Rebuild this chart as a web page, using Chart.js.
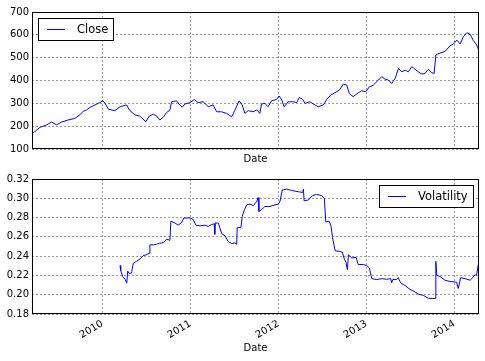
<!DOCTYPE html>
<html>
<head>
<meta charset="utf-8">
<title>Close and Volatility</title>
<script src="https://cdn.jsdelivr.net/npm/chart.js@4.4.1/dist/chart.umd.min.js"></script>
<style>
  body { margin: 0; background: #fff; }
  canvas { position: absolute; left: 0; }
  #closeChart { top: 0; }
  #volChart { top: 170px; }
</style>
</head>
<body>
<canvas id="closeChart" width="485" height="170"></canvas>
<canvas id="volChart" width="485" height="191"></canvas>
<script>
// values
const closeDates = [
  '2009-03-20', '2009-04-17', '2009-05-14', '2009-06-04', '2009-06-25', '2009-07-16', '2009-08-12',
  '2009-09-09', '2009-09-30', '2009-10-13', '2009-10-27', '2009-11-10', '2009-12-01', '2009-12-21',
  '2010-01-03', '2010-01-12', '2010-01-26', '2010-02-22', '2010-03-15', '2010-04-11', '2010-04-25',
  '2010-05-16', '2010-06-05', '2010-06-30', '2010-07-14', '2010-07-31', '2010-08-14', '2010-08-27',
  '2010-09-10', '2010-09-24', '2010-10-08', '2010-10-15', '2010-11-04', '2010-11-18', '2010-11-28',
  '2010-12-09', '2010-12-30', '2011-01-17', '2011-02-02', '2011-02-23', '2011-03-16', '2011-04-05',
  '2011-04-20', '2011-05-10', '2011-05-31', '2011-06-21', '2011-07-04', '2011-07-22', '2011-08-04',
  '2011-08-15', '2011-08-29', '2011-09-18', '2011-10-03', '2011-10-16', '2011-10-23', '2011-11-06',
  '2011-11-19', '2011-12-04', '2011-12-24', '2012-01-04', '2012-01-15', '2012-01-25', '2012-02-11',
  '2012-03-03', '2012-03-17', '2012-03-28', '2012-04-11', '2012-04-21', '2012-05-11', '2012-05-25',
  '2012-06-15', '2012-07-06', '2012-07-20', '2012-08-05', '2012-08-31', '2012-09-13', '2012-09-27',
  '2012-10-11', '2012-10-22', '2012-11-07', '2012-11-28', '2012-12-12', '2012-12-30', '2013-01-13',
  '2013-01-30', '2013-02-20', '2013-03-06', '2013-03-20', '2013-04-02', '2013-04-16', '2013-04-30',
  '2013-05-14', '2013-05-28', '2013-06-11', '2013-06-24', '2013-07-08', '2013-07-22', '2013-08-05',
  '2013-08-19', '2013-09-01', '2013-09-15', '2013-09-29', '2013-10-09', '2013-10-16', '2013-11-02',
  '2013-11-23', '2013-12-14', '2013-12-28', '2014-01-11', '2014-01-25', '2014-02-07', '2014-02-21',
  '2014-03-07', '2014-03-21', '2014-04-01', '2014-04-11'
];
const closeValues = [
  171, 195, 205, 218, 206, 218, 227,
  234, 250, 265, 271, 282, 293, 303,
  311, 300, 274, 268, 285, 293, 268,
  249, 244, 219, 244, 253, 244, 227,
  239, 259, 271, 307, 311, 293, 283,
  297, 303, 317, 303, 307, 285, 293,
  263, 263, 256, 241, 268, 311, 293,
  256, 268, 263, 271, 256, 297, 300,
  285, 311, 317, 332, 315, 285, 307,
  307, 303, 326, 317, 300, 307, 297,
  285, 293, 317, 336, 351, 361, 384,
  380, 343, 329, 346, 355, 351, 372,
  380, 402, 417, 405, 402, 387, 409,
  453, 438, 445, 438, 461, 449, 438,
  428, 431, 449, 434, 431, 512, 520,
  527, 552, 560, 577, 560, 592, 609,
  603, 574, 560, 537
];

const volDates = [
  '2010-03-15', '2010-03-18', '2010-03-26', '2010-04-05', '2010-04-12', '2010-04-16', '2010-04-22',
  '2010-05-02', '2010-05-09', '2010-05-23', '2010-06-06', '2010-06-19', '2010-07-03', '2010-07-14',
  '2010-07-17', '2010-07-31', '2010-08-14', '2010-08-27', '2010-09-10', '2010-09-24', '2010-10-08',
  '2010-10-12', '2010-10-28', '2010-11-11', '2010-11-25', '2010-12-05', '2010-12-30', '2011-01-13',
  '2011-01-24', '2011-02-10', '2011-03-03', '2011-03-16', '2011-03-30', '2011-04-10', '2011-04-12',
  '2011-04-14', '2011-04-27', '2011-05-11', '2011-05-25', '2011-06-07', '2011-06-21', '2011-07-05',
  '2011-07-12', '2011-07-14', '2011-07-30', '2011-08-04', '2011-08-13', '2011-08-23', '2011-09-05',
  '2011-09-19', '2011-10-03', '2011-10-09', '2011-10-12', '2011-10-23', '2011-11-06', '2011-11-27',
  '2011-12-18', '2012-01-01', '2012-01-08', '2012-01-17', '2012-02-05', '2012-02-25', '2012-03-24',
  '2012-04-11', '2012-04-14', '2012-04-17', '2012-05-05', '2012-05-21', '2012-06-08', '2012-06-29',
  '2012-07-10', '2012-07-16', '2012-07-30', '2012-08-07', '2012-08-13', '2012-08-24', '2012-09-13',
  '2012-09-23', '2012-10-01', '2012-10-08', '2012-10-14', '2012-10-18', '2012-11-01', '2012-11-19',
  '2012-11-28', '2012-12-19', '2013-01-02', '2013-01-13', '2013-01-23', '2013-02-13', '2013-03-06',
  '2013-03-26', '2013-04-12', '2013-04-16', '2013-04-20', '2013-05-06', '2013-05-13', '2013-05-23',
  '2013-06-10', '2013-07-01', '2013-07-22', '2013-08-04', '2013-08-25', '2013-09-15', '2013-10-13',
  '2013-10-16', '2013-10-20', '2013-11-02', '2013-11-23', '2013-12-14', '2014-01-10', '2014-01-17',
  '2014-01-27', '2014-02-14', '2014-03-07', '2014-03-18', '2014-03-27', '2014-04-03', '2014-04-10'
];
const volValues = [
  0.2303, 0.2250, 0.2190, 0.2160, 0.2120, 0.2245, 0.2220,
  0.2225, 0.2326, 0.2347, 0.2371, 0.2405, 0.2415, 0.2429,
  0.2517, 0.2517, 0.2524, 0.2534, 0.2540, 0.2575, 0.2565,
  0.2762, 0.2745, 0.2721, 0.2745, 0.2796, 0.2796, 0.2780,
  0.2721, 0.2714, 0.2721, 0.2708, 0.2728, 0.2735, 0.2626,
  0.2745, 0.2742, 0.2633, 0.2610, 0.2551, 0.2530, 0.2537,
  0.2524, 0.2694, 0.2700, 0.2813, 0.2881, 0.2932, 0.2939,
  0.2925, 0.2966, 0.3007, 0.2864, 0.2881, 0.2915, 0.2915,
  0.2932, 0.2939, 0.2973, 0.3085, 0.3095, 0.3081, 0.3068,
  0.3060, 0.3095, 0.2973, 0.2983, 0.3027, 0.3040, 0.3027,
  0.3000, 0.2755, 0.2762, 0.2711, 0.2592, 0.2456, 0.2449,
  0.2439, 0.2371, 0.2337, 0.2259, 0.2415, 0.2381, 0.2388,
  0.2313, 0.2313, 0.2303, 0.2279, 0.2167, 0.2157, 0.2167,
  0.2160, 0.2167, 0.2123, 0.2157, 0.2157, 0.2177, 0.2123,
  0.2096, 0.2055, 0.2028, 0.2005, 0.1994, 0.1963, 0.1960,
  0.2347, 0.2200, 0.2190, 0.2150, 0.2137, 0.2130, 0.2065,
  0.2177, 0.2167, 0.2150, 0.2177, 0.2204, 0.2204, 0.2313
];

const dateRange = ['2009-03-15', '2014-04-13'];
const yearTicks = [2010, 2011, 2012, 2013, 2014];
const closeTicks = [100, 200, 300, 400, 500, 600, 700];
const volTicks = [0.18, 0.20, 0.22, 0.24, 0.26, 0.28, 0.30, 0.32];

function toYear(s) {
  const [y, m, d] = s.split('-').map(Number);
  const start = Date.UTC(y, 0, 1);
  const end = Date.UTC(y + 1, 0, 1);
  return y + (Date.UTC(y, m - 1, d) - start) / (end - start);
}

function points(dates, values) {
  return dates.map((d, i) => ({ x: toYear(d), y: values[i] }));
}

Chart.defaults.font.family = '"DejaVu Sans", sans-serif';
Chart.defaults.font.size = 10;
Chart.defaults.color = '#000';

// black frame round the plot and a boxed legend inside it, matplotlib style
const framePlugin = {
  id: 'frame',
  afterDraw(chart, args, opts) {
    const { ctx, chartArea: a } = chart;
    ctx.save();
    ctx.strokeStyle = '#000';
    ctx.lineWidth = 1;
    ctx.strokeRect(Math.round(a.left) + 0.5, Math.round(a.top) + 0.5,
      Math.round(a.width) - 1, Math.round(a.height) - 1);

    const ds = chart.data.datasets[0];
    ctx.font = '11.5px "DejaVu Sans"';
    const w = Math.round(ctx.measureText(ds.label).width + 44);
    const h = 22;
    const x = Math.round(opts.corner === 'right' ? a.right - 6 - w : a.left + 6);
    const y = Math.round(a.top + 6);
    ctx.fillStyle = '#fff';
    ctx.fillRect(x, y, w, h);
    ctx.strokeRect(x + 0.5, y + 0.5, w, h);
    ctx.strokeStyle = ds.borderColor;
    ctx.beginPath();
    ctx.moveTo(x + 9, y + 11.5);
    ctx.lineTo(x + 27, y + 11.5);
    ctx.stroke();
    ctx.fillStyle = '#000';
    ctx.textBaseline = 'middle';
    ctx.fillText(ds.label, x + 39, y + 12);
    ctx.restore();
  }
};

function makeChart(id, label, dates, values, yTicks, fmt, cfg) {
  return new Chart(document.getElementById(id), {
    type: 'line',
    data: {
      datasets: [{
        label: label,
        data: points(dates, values),
        borderColor: '#0000ff',
        borderWidth: 1,
        pointRadius: 0,
        tension: 0
      }]
    },
    options: {
      responsive: false,
      animation: false,
      layout: { padding: { top: cfg.top, right: 6, left: 0, bottom: 0 } },
      plugins: {
        legend: { display: false },
        tooltip: { enabled: false },
        frame: { corner: cfg.corner }
      },
      scales: {
        x: {
          type: 'linear',
          min: toYear(dateRange[0]),
          max: toYear(dateRange[1]),
          afterBuildTicks: s => { s.ticks = yearTicks.map(v => ({ value: v })); },
          afterFit: s => { s.height = cfg.xHeight; },
          grid: { color: '#9a9a9a', drawTicks: false },
          border: { display: false, dash: [2, 2] },
          ticks: {
            display: cfg.xLabels,
            minRotation: 30,
            maxRotation: 30,
            padding: 4,
            callback: v => String(v)
          },
          title: { display: true, text: 'Date', padding: { top: 0, bottom: cfg.titlePad } }
        },
        y: {
          min: yTicks[0],
          max: yTicks[yTicks.length - 1],
          afterBuildTicks: s => { s.ticks = yTicks.map(v => ({ value: v })); },
          afterFit: s => { s.width = 32; },
          grid: { color: '#9a9a9a', drawTicks: false },
          border: { display: false, dash: [2, 2] },
          ticks: { padding: 3, callback: fmt }
        }
      }
    },
    plugins: [framePlugin]
  });
}

makeChart('closeChart', 'Close', closeDates, closeValues, closeTicks, v => String(v),
  { top: 12, corner: 'left', xHeight: 21, xLabels: false, titlePad: 5 });
makeChart('volChart', 'Volatility', volDates, volValues, volTicks, v => v.toFixed(2),
  { top: 7, corner: 'right', xHeight: 47, xLabels: true, titlePad: 7 });
</script>
</body>
</html>
